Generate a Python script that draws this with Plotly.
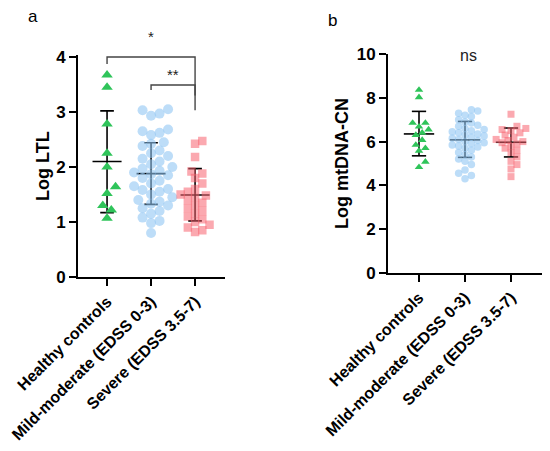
import plotly.graph_objects as go

# --- data ---
GROUPS = ["Healthy controls", "Mild-moderate (EDSS 0-3)", "Severe (EDSS 3.5-7)"]

ltl_healthy = [3.67, 3.45, 2.78, 2.25, 2.0, 1.64, 1.52, 1.3, 1.22, 1.07]
ltl_mild = [3.05, 3.03, 2.97, 2.93, 2.68, 2.65, 2.62, 2.58, 2.45, 2.42, 2.38,
            2.3, 2.25, 2.2, 2.15, 2.1, 2.05, 2.0, 1.97, 1.93, 1.9, 1.87, 1.85,
            1.8, 1.75, 1.7, 1.65, 1.6, 1.58, 1.55, 1.5, 1.45, 1.4, 1.37, 1.33,
            1.3, 1.25, 1.2, 1.15, 1.08, 1.02, 0.98, 0.8]
ltl_severe = [2.47, 2.42, 2.18, 1.92, 1.88, 1.8, 1.7, 1.6, 1.55, 1.5, 1.48,
              1.45, 1.4, 1.35, 1.3, 1.25, 1.2, 1.15, 1.1, 1.05, 1.0, 0.95,
              0.9, 0.85, 0.82]
ltl_mean = [2.1, 1.88, 1.49]
ltl_lo = [1.17, 1.32, 1.02]
ltl_hi = [3.02, 2.44, 1.97]

mt_healthy = [8.36, 8.02, 6.85, 6.85, 6.68, 6.55, 6.4, 6.3, 6.07, 5.85, 5.7,
              5.58, 5.08, 4.83]
mt_mild = [7.45, 7.4, 7.3, 7.2, 7.15, 7.0, 6.9, 6.85, 6.75, 6.7, 6.6, 6.55,
           6.5, 6.45, 6.4, 6.35, 6.3, 6.25, 6.2, 6.15, 6.1, 6.05, 6.0, 5.95,
           5.9, 5.85, 5.8, 5.75, 5.7, 5.6, 5.5, 5.4, 5.3, 5.2, 5.1, 4.95, 4.7,
           4.55, 4.45, 4.3]
mt_severe = [7.25, 6.7, 6.6, 6.55, 6.5, 6.4, 6.3, 6.2, 6.1, 6.05, 6.0, 5.95,
             5.9, 5.8, 5.7, 5.6, 5.5, 5.3, 5.1, 4.95, 4.75, 4.4]
mt_mean = [6.35, 6.08, 5.97]
mt_lo = [5.35, 5.28, 5.3]
mt_hi = [7.38, 6.92, 6.62]

# significance brackets for panel a: (group i, group j, height, leg_i, leg_j, label)
brackets = [(0, 2, 4.0, 3.87, 3.3, "*"), (1, 2, 3.49, 3.4, 3.03, "**")]

COLORS = ["#2fc45a", "rgba(145,199,243,0.6)", "rgba(247,98,112,0.55)"]
SYMBOLS = ["triangle-up", "circle", "square"]

W, H = 550, 451
OFF = 8  # page body margin
# panel geometry (pixels in the final picture)
PA = dict(x0=78, x1=225, y0=277, y1=55.3, xr=[-0.66, 2.68], yr=[0, 4.03])
PB = dict(x0=388, x1=542, y0=273, y1=54, xr=[-0.674, 2.674], yr=[0, 10])


def px2paper_x(p):
    return (p - OFF) / W


def px2paper_y(p):
    return 1 - (p - OFF) / H


def swarm(values, center, px_x, px_y, d):
    """simple beeswarm: offset points sideways so they do not overlap"""
    placed = []
    xs = {}
    order = sorted(range(len(values)), key=lambda i: values[i])
    for i in order:
        yp = values[i] * px_y
        k = 0
        while True:
            cands = [0.0] if k == 0 else [k * d * 0.5, -k * d * 0.5]
            ok = None
            for c in cands:
                if all((c - px) ** 2 + (yp - py) ** 2 >= d * d for px, py in placed):
                    ok = c
                    break
            if ok is not None:
                placed.append((ok, yp))
                xs[i] = center + ok / px_x
                break
            k += 1
    return [xs[i] for i in range(len(values))]


def bars_xy(means, lo, hi, wmean, wcap):
    x, y = [], []
    for i, (m, a, b) in enumerate(zip(means, lo, hi)):
        x += [i, i, None, i - wcap, i + wcap, None, i - wcap, i + wcap, None,
              i - wmean, i + wmean, None]
        y += [a, b, None, a, a, None, b, b, None, m, m, None]
    return x, y


fig = go.Figure()

panels = [
    ("x", "y", PA, [ltl_healthy, ltl_mild, ltl_severe], ltl_mean, ltl_lo, ltl_hi, [10, 10, 8.5]),
    ("x2", "y2", PB, [mt_healthy, mt_mild, mt_severe], mt_mean, mt_lo, mt_hi, [7.5, 7.5, 7]),
]

for xa, ya, P, groups, means, lo, hi, sizes in panels:
    px_x = (P["x1"] - P["x0"]) / (P["xr"][1] - P["xr"][0])
    px_y = (P["y0"] - P["y1"]) / (P["yr"][1] - P["yr"][0])
    bx, by = bars_xy(means, lo, hi, 0.33, 0.155)
    fig.add_trace(go.Scatter(x=bx, y=by, mode="lines", xaxis=xa, yaxis=ya,
                             line=dict(color="black", width=1.6), hoverinfo="skip"))
    for g, vals in enumerate(groups):
        xs = swarm(vals, g, px_x, px_y, sizes[g] * 0.85)
        fig.add_trace(go.Scatter(
            x=xs, y=vals, mode="markers", xaxis=xa, yaxis=ya, name=GROUPS[g],
            marker=dict(symbol=SYMBOLS[g], size=sizes[g], color=COLORS[g], line_width=0)))

# brackets
for i, j, h, li, lj, lab in brackets:
    fig.add_trace(go.Scatter(x=[i, i, j, j], y=[li, h, h, lj], mode="lines",
                             xaxis="x", yaxis="y", line=dict(color="#444", width=1.4),
                             hoverinfo="skip"))
    fig.add_annotation(x=(i + j) / 2, y=h, xref="x", yref="y", text=lab,
                       showarrow=False, yanchor="bottom", yshift=10 if lab == "*" else 0,
                       font=dict(size=15, color="#222"))

fig.add_annotation(x=1.08, y=9.95, xref="x2", yref="y2", text="ns", showarrow=False,
                   yanchor="middle", font=dict(size=16, color="#222"))

for lab, px, py in [("a", 33, 17), ("b", 332, 21)]:
    fig.add_annotation(x=px2paper_x(px), y=px2paper_y(py), xref="paper", yref="paper",
                       text=lab, showarrow=False, xanchor="center", yanchor="middle",
                       font=dict(size=17, color="black"))

axis_common = dict(showline=True, linecolor="black", linewidth=2, ticks="outside",
                   ticklen=7, tickwidth=2, tickcolor="black", showgrid=False,
                   zeroline=False, fixedrange=True, automargin=False)
xtick = dict(family="Liberation Sans", size=16, color="black", weight="bold")
ytick = dict(family="Liberation Sans", size=17, color="black", weight="bold")
ytitle = dict(family="Liberation Sans", size=18, color="black", weight="bold")

fig.update_layout(
    width=W, height=H, margin=dict(l=0, r=0, t=0, b=0),
    paper_bgcolor="white", plot_bgcolor="white", showlegend=False,
    font=dict(family="Liberation Sans"),
    xaxis=dict(domain=[px2paper_x(PA["x0"]), px2paper_x(PA["x1"])], range=PA["xr"],
               tickvals=[0, 1, 2], ticktext=GROUPS, tickangle=-45, tickfont=xtick,
               anchor="y", **axis_common),
    yaxis=dict(domain=[px2paper_y(PA["y0"]), px2paper_y(PA["y1"])], range=PA["yr"],
               tickvals=[0, 1, 2, 3, 4], tickfont=ytick, anchor="x",
               title=dict(text="Log LTL", font=ytitle, standoff=2), **axis_common),
    xaxis2=dict(domain=[px2paper_x(PB["x0"]), px2paper_x(PB["x1"])], range=PB["xr"],
                tickvals=[0, 1, 2], ticktext=GROUPS, tickangle=-45, tickfont=xtick,
                anchor="y2", **axis_common),
    yaxis2=dict(domain=[px2paper_y(PB["y0"]), px2paper_y(PB["y1"])], range=PB["yr"],
                tickvals=[0, 2, 4, 6, 8, 10], tickfont=ytick, anchor="x2",
                title=dict(text="Log mtDNA-CN", font=ytitle, standoff=3), **axis_common),
)

fig.write_html("out.html")
